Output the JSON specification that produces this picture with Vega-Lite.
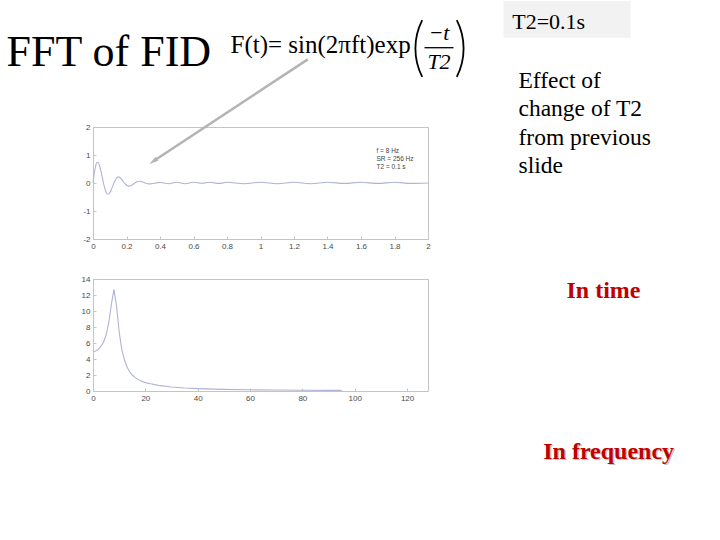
{
  "$schema": "https://vega.github.io/schema/vega-lite/v6.json",
  "background": "white",
  "padding": 0,
  "autosize": {"type": "pad"},
  "bounds": "flush",
  "spacing": 40,
  "config": {
    "view": {"stroke": "#c4c4c4", "strokeWidth": 1},
    "axis": {"labelFont": "Liberation Sans", "labelFontSize": 8, "labelColor": "#4a4a4a", "domain": false, "ticks": true, "tickSize": -3, "tickColor": "#c4c4c4", "grid": false, "labelPadding": 6, "labelOverlap": false, "labelFlush": false}
  },
  "vconcat": [
    {
      "width": 335,
      "height": 112,
      "data": {"values": [{}]},
      "layer": [
        {
          "data": {"values": [
            {"t": 0, "v": 0}, {"t": 0.0078, "v": 0.354}, {"t": 0.0156, "v": 0.605}, {"t": 0.0234, "v": 0.731},
            {"t": 0.0313, "v": 0.732}, {"t": 0.0391, "v": 0.625}, {"t": 0.0469, "v": 0.442}, {"t": 0.0547, "v": 0.221},
            {"t": 0.0625, "v": 0}, {"t": 0.0703, "v": -0.189}, {"t": 0.0781, "v": -0.324}, {"t": 0.0859, "v": -0.391},
            {"t": 0.0938, "v": -0.392}, {"t": 0.1016, "v": -0.335}, {"t": 0.1094, "v": -0.237}, {"t": 0.1172, "v": -0.119},
            {"t": 0.125, "v": 0}, {"t": 0.1328, "v": 0.101}, {"t": 0.1406, "v": 0.173}, {"t": 0.1484, "v": 0.209},
            {"t": 0.1563, "v": 0.21}, {"t": 0.1641, "v": 0.179}, {"t": 0.1719, "v": 0.127}, {"t": 0.1797, "v": 0.063},
            {"t": 0.1875, "v": 0}, {"t": 0.1953, "v": -0.054}, {"t": 0.2031, "v": -0.093}, {"t": 0.2109, "v": -0.112},
            {"t": 0.2188, "v": -0.112}, {"t": 0.2266, "v": -0.096}, {"t": 0.2344, "v": -0.068}, {"t": 0.2422, "v": -0.034},
            {"t": 0.25, "v": 0}, {"t": 0.2578, "v": 0.029}, {"t": 0.2656, "v": 0.05}, {"t": 0.2734, "v": 0.06},
            {"t": 0.2813, "v": 0.06}, {"t": 0.2891, "v": 0.051}, {"t": 0.2969, "v": 0.036}, {"t": 0.3047, "v": 0.018},
            {"t": 0.3125, "v": 0}, {"t": 0.3203, "v": -0.016}, {"t": 0.3281, "v": -0.027}, {"t": 0.3359, "v": -0.032},
            {"t": 0.3438, "v": -0.032}, {"t": 0.3516, "v": -0.027}, {"t": 0.3594, "v": -0.019}, {"t": 0.375, "v": 0},
            {"t": 0.4, "v": 0.02}, {"t": 0.45, "v": -0.025}, {"t": 0.5, "v": 0.025}, {"t": 0.55, "v": -0.025},
            {"t": 0.6, "v": 0.025}, {"t": 0.65, "v": -0.01}, {"t": 0.7, "v": 0.025}, {"t": 0.75, "v": -0.015},
            {"t": 0.8, "v": 0.025}, {"t": 0.9, "v": -0.025}, {"t": 1.0, "v": 0.025}, {"t": 1.1, "v": -0.025},
            {"t": 1.2, "v": 0.025}, {"t": 1.3, "v": -0.025}, {"t": 1.4, "v": 0.025}, {"t": 1.5, "v": -0.015},
            {"t": 1.6, "v": 0.025}, {"t": 1.7, "v": -0.015}, {"t": 1.8, "v": 0.025}, {"t": 1.9, "v": -0.015},
            {"t": 2.0, "v": 0}
          ]},
          "mark": {"type": "line", "color": "#b0b3d4", "strokeWidth": 1.1, "interpolate": "monotone"},
          "encoding": {
            "x": {"field": "t", "type": "quantitative", "scale": {"domain": [0, 2], "nice": false, "zero": false},
                  "axis": {"title": null, "values": [0, 0.2, 0.4, 0.6, 0.8, 1, 1.2, 1.4, 1.6, 1.8, 2], "format": "~g", "labelOverlap": false}},
            "y": {"field": "v", "type": "quantitative", "scale": {"domain": [-2, 2], "nice": false, "zero": false},
                  "axis": {"title": null, "values": [-2, -1, 0, 1, 2], "format": "~g", "labelOverlap": false, "labelExpr": "replace(datum.label, '−', '-')"}}
          }
        },
        {
          "mark": {"type": "rect", "opacity": 0, "clip": false},
          "encoding": {
            "x": {"datum": -0.5522, "type": "quantitative", "axis": {"title": null, "values": [0, 0.2, 0.4, 0.6, 0.8, 1, 1.2, 1.4, 1.6, 1.8, 2], "format": "~g", "labelOverlap": false}},
            "x2": {"datum": 3.7463},
            "y": {"datum": 6.5, "type": "quantitative", "axis": {"title": null, "values": [-2, -1, 0, 1, 2], "format": "~g", "labelOverlap": false}},
            "y2": {"datum": -12.786}
          }
        },
        {
          "mark": {"type": "rect", "fill": "#f2f2f2", "clip": false},
          "encoding": {
            "x": {"datum": 2.4507, "type": "quantitative", "axis": {"title": null, "values": [0, 0.2, 0.4, 0.6, 0.8, 1, 1.2, 1.4, 1.6, 1.8, 2], "format": "~g", "labelOverlap": false}},
            "x2": {"datum": 3.209},
            "y": {"datum": 6.5, "type": "quantitative", "axis": {"title": null, "values": [-2, -1, 0, 1, 2], "format": "~g", "labelOverlap": false}},
            "y2": {"datum": 5.189}
          }
        },
        {
          "mark": {"type": "rule", "color": "#b4b4b4", "strokeWidth": 2.6, "clip": false},
          "encoding": {
            "x": {"datum": 1.2824, "type": "quantitative", "axis": {"title": null, "values": [0, 0.2, 0.4, 0.6, 0.8, 1, 1.2, 1.4, 1.6, 1.8, 2], "format": "~g", "labelOverlap": false}},
            "x2": {"datum": 0.3618},
            "y": {"datum": 4.4179, "type": "quantitative", "axis": {"title": null, "values": [-2, -1, 0, 1, 2], "format": "~g", "labelOverlap": false}},
            "y2": {"datum": 0.7857}
          }
        },
        {
          "mark": {"type": "point", "shape": "M0,-1L0.45,0.8L-0.45,0.8Z", "filled": true, "color": "#b4b4b4", "opacity": 1, "size": 110, "angle": 236.6, "clip": false},
          "encoding": {
            "x": {"datum": 0.3618, "type": "quantitative", "axis": {"title": null, "values": [0, 0.2, 0.4, 0.6, 0.8, 1, 1.2, 1.4, 1.6, 1.8, 2], "format": "~g", "labelOverlap": false}},
            "y": {"datum": 0.7857, "type": "quantitative", "axis": {"title": null, "values": [-2, -1, 0, 1, 2], "format": "~g", "labelOverlap": false}}
          }
        },
        {
          "mark": {"type": "text", "text": "FFT of FID", "font": "Liberation Serif", "fontSize": 44, "align": "left", "baseline": "alphabetic", "color": "black", "clip": false},
          "encoding": {
            "x": {"datum": -0.5164, "type": "quantitative", "axis": {"title": null, "values": [0, 0.2, 0.4, 0.6, 0.8, 1, 1.2, 1.4, 1.6, 1.8, 2], "format": "~g", "labelOverlap": false}},
            "y": {"datum": 4.1786, "type": "quantitative", "axis": {"title": null, "values": [-2, -1, 0, 1, 2], "format": "~g", "labelOverlap": false}}
          }
        },
        {
          "mark": {"type": "text", "text": "F(t)= sin(2πft)exp", "font": "Liberation Serif", "fontSize": 25, "align": "left", "baseline": "alphabetic", "color": "black", "clip": false},
          "encoding": {
            "x": {"datum": 0.8209, "type": "quantitative", "axis": {"title": null, "values": [0, 0.2, 0.4, 0.6, 0.8, 1, 1.2, 1.4, 1.6, 1.8, 2], "format": "~g", "labelOverlap": false}},
            "y": {"datum": 4.632, "type": "quantitative", "axis": {"title": null, "values": [-2, -1, 0, 1, 2], "format": "~g", "labelOverlap": false}}
          }
        },
        {
          "mark": {"type": "arc", "radius": 63.6, "radius2": 61.8, "theta": 4.242, "theta2": 5.183, "color": "black", "clip": false},
          "encoding": {
            "x": {"datum": 2.2991, "type": "quantitative", "axis": {"title": null, "values": [0, 0.2, 0.4, 0.6, 0.8, 1, 1.2, 1.4, 1.6, 1.8, 2], "format": "~g", "labelOverlap": false}},
            "y": {"datum": 4.8036, "type": "quantitative", "axis": {"title": null, "values": [-2, -1, 0, 1, 2], "format": "~g", "labelOverlap": false}}
          }
        },
        {
          "mark": {"type": "arc", "radius": 63.6, "radius2": 61.8, "theta": 1.1, "theta2": 2.041, "color": "black", "clip": false},
          "encoding": {
            "x": {"datum": 1.8382, "type": "quantitative", "axis": {"title": null, "values": [0, 0.2, 0.4, 0.6, 0.8, 1, 1.2, 1.4, 1.6, 1.8, 2], "format": "~g", "labelOverlap": false}},
            "y": {"datum": 4.8036, "type": "quantitative", "axis": {"title": null, "values": [-2, -1, 0, 1, 2], "format": "~g", "labelOverlap": false}}
          }
        },
        {
          "mark": {"type": "text", "text": "−t", "font": "Liberation Serif", "fontSize": 22, "fontStyle": "italic", "align": "center", "baseline": "alphabetic", "color": "black", "clip": false},
          "encoding": {
            "x": {"datum": 2.0657, "type": "quantitative", "axis": {"title": null, "values": [0, 0.2, 0.4, 0.6, 0.8, 1, 1.2, 1.4, 1.6, 1.8, 2], "format": "~g", "labelOverlap": false}},
            "y": {"datum": 5.107, "type": "quantitative", "axis": {"title": null, "values": [-2, -1, 0, 1, 2], "format": "~g", "labelOverlap": false}}
          }
        },
        {
          "mark": {"type": "rule", "color": "black", "strokeWidth": 1.3, "clip": false},
          "encoding": {
            "x": {"datum": 1.9791, "type": "quantitative", "axis": {"title": null, "values": [0, 0.2, 0.4, 0.6, 0.8, 1, 1.2, 1.4, 1.6, 1.8, 2], "format": "~g", "labelOverlap": false}},
            "x2": {"datum": 2.1522},
            "y": {"datum": 4.832, "type": "quantitative", "axis": {"title": null, "values": [-2, -1, 0, 1, 2], "format": "~g", "labelOverlap": false}}
          }
        },
        {
          "mark": {"type": "text", "text": "T2", "font": "Liberation Serif", "fontSize": 22, "fontStyle": "italic", "align": "center", "baseline": "alphabetic", "color": "black", "clip": false},
          "encoding": {
            "x": {"datum": 2.0657, "type": "quantitative", "axis": {"title": null, "values": [0, 0.2, 0.4, 0.6, 0.8, 1, 1.2, 1.4, 1.6, 1.8, 2], "format": "~g", "labelOverlap": false}},
            "y": {"datum": 4.0607, "type": "quantitative", "axis": {"title": null, "values": [-2, -1, 0, 1, 2], "format": "~g", "labelOverlap": false}}
          }
        },
        {
          "mark": {"type": "text", "text": "T2=0.1s", "font": "Liberation Serif", "fontSize": 22, "align": "left", "baseline": "alphabetic", "color": "black", "clip": false},
          "encoding": {
            "x": {"datum": 2.5027, "type": "quantitative", "axis": {"title": null, "values": [0, 0.2, 0.4, 0.6, 0.8, 1, 1.2, 1.4, 1.6, 1.8, 2], "format": "~g", "labelOverlap": false}},
            "y": {"datum": 5.489, "type": "quantitative", "axis": {"title": null, "values": [-2, -1, 0, 1, 2], "format": "~g", "labelOverlap": false}}
          }
        },
        {
          "mark": {"type": "text", "text": ["Effect of", "change of T2", "from previous", "slide"], "lineHeight": 28.2, "font": "Liberation Serif", "fontSize": 23.5, "align": "left", "baseline": "alphabetic", "color": "black", "clip": false},
          "encoding": {
            "x": {"datum": 2.5403, "type": "quantitative", "axis": {"title": null, "values": [0, 0.2, 0.4, 0.6, 0.8, 1, 1.2, 1.4, 1.6, 1.8, 2], "format": "~g", "labelOverlap": false}},
            "y": {"datum": 3.382, "type": "quantitative", "axis": {"title": null, "values": [-2, -1, 0, 1, 2], "format": "~g", "labelOverlap": false}}
          }
        },
        {
          "mark": {"type": "text", "text": ["f = 8 Hz", "SR = 256 Hz", "T2 = 0.1 s"], "lineHeight": 8, "font": "Liberation Sans", "fontSize": 6.5, "align": "left", "baseline": "alphabetic", "color": "#444444", "clip": false},
          "encoding": {
            "x": {"datum": 1.6925, "type": "quantitative", "axis": {"title": null, "values": [0, 0.2, 0.4, 0.6, 0.8, 1, 1.2, 1.4, 1.6, 1.8, 2], "format": "~g", "labelOverlap": false}},
            "y": {"datum": 1.0714, "type": "quantitative", "axis": {"title": null, "values": [-2, -1, 0, 1, 2], "format": "~g", "labelOverlap": false}}
          }
        },
        {
          "mark": {"type": "text", "text": "In time", "font": "Liberation Serif", "fontSize": 24, "fontWeight": "bold", "align": "left", "baseline": "alphabetic", "color": "#c00000", "clip": false},
          "encoding": {
            "x": {"datum": 2.8269, "type": "quantitative", "axis": {"title": null, "values": [0, 0.2, 0.4, 0.6, 0.8, 1, 1.2, 1.4, 1.6, 1.8, 2], "format": "~g", "labelOverlap": false}},
            "y": {"datum": -4.118, "type": "quantitative", "axis": {"title": null, "values": [-2, -1, 0, 1, 2], "format": "~g", "labelOverlap": false}}
          }
        },
        {
          "mark": {"type": "text", "text": "In frequency", "font": "Liberation Serif", "fontSize": 24, "fontWeight": "bold", "align": "left", "baseline": "alphabetic", "color": "#c4c4c4", "clip": false},
          "encoding": {
            "x": {"datum": 2.6967, "type": "quantitative", "axis": {"title": null, "values": [0, 0.2, 0.4, 0.6, 0.8, 1, 1.2, 1.4, 1.6, 1.8, 2], "format": "~g", "labelOverlap": false}},
            "y": {"datum": -9.9, "type": "quantitative", "axis": {"title": null, "values": [-2, -1, 0, 1, 2], "format": "~g", "labelOverlap": false}}
          }
        },
        {
          "mark": {"type": "text", "text": "In frequency", "font": "Liberation Serif", "fontSize": 24, "fontWeight": "bold", "align": "left", "baseline": "alphabetic", "color": "#c00000", "clip": false},
          "encoding": {
            "x": {"datum": 2.6878, "type": "quantitative", "axis": {"title": null, "values": [0, 0.2, 0.4, 0.6, 0.8, 1, 1.2, 1.4, 1.6, 1.8, 2], "format": "~g", "labelOverlap": false}},
            "y": {"datum": -9.846, "type": "quantitative", "axis": {"title": null, "values": [-2, -1, 0, 1, 2], "format": "~g", "labelOverlap": false}}
          }
        }
      ]
    },
    {
      "width": 335,
      "height": 112,
      "data": {"values": [
        {"f": 0, "m": 4.9}, {"f": 1, "m": 5.0}, {"f": 2, "m": 5.2}, {"f": 3, "m": 5.6}, {"f": 4, "m": 6.1},
        {"f": 5, "m": 7.0}, {"f": 6, "m": 8.5}, {"f": 7, "m": 10.8}, {"f": 8, "m": 12.7}, {"f": 9, "m": 10.6},
        {"f": 10, "m": 7.4}, {"f": 11, "m": 5.2}, {"f": 12, "m": 3.9}, {"f": 13, "m": 3.0}, {"f": 14, "m": 2.4},
        {"f": 15, "m": 2.0}, {"f": 16, "m": 1.7}, {"f": 18, "m": 1.3}, {"f": 20, "m": 1.05}, {"f": 22, "m": 0.9},
        {"f": 25, "m": 0.7}, {"f": 30, "m": 0.5}, {"f": 35, "m": 0.38}, {"f": 40, "m": 0.3}, {"f": 50, "m": 0.2},
        {"f": 60, "m": 0.15}, {"f": 70, "m": 0.12}, {"f": 80, "m": 0.1}, {"f": 90, "m": 0.08}, {"f": 95, "m": 0.08}
      ]},
      "mark": {"type": "line", "color": "#b0b3d4", "strokeWidth": 1.1},
      "encoding": {
        "x": {"field": "f", "type": "quantitative", "scale": {"domain": [0, 128], "nice": false, "zero": false},
              "axis": {"title": null, "values": [0, 20, 40, 60, 80, 100, 120], "labelOverlap": false}},
        "y": {"field": "m", "type": "quantitative", "scale": {"domain": [0, 14], "nice": false, "zero": false},
              "axis": {"title": null, "values": [0, 2, 4, 6, 8, 10, 12, 14], "labelOverlap": false}}
      }
    }
  ]
}
